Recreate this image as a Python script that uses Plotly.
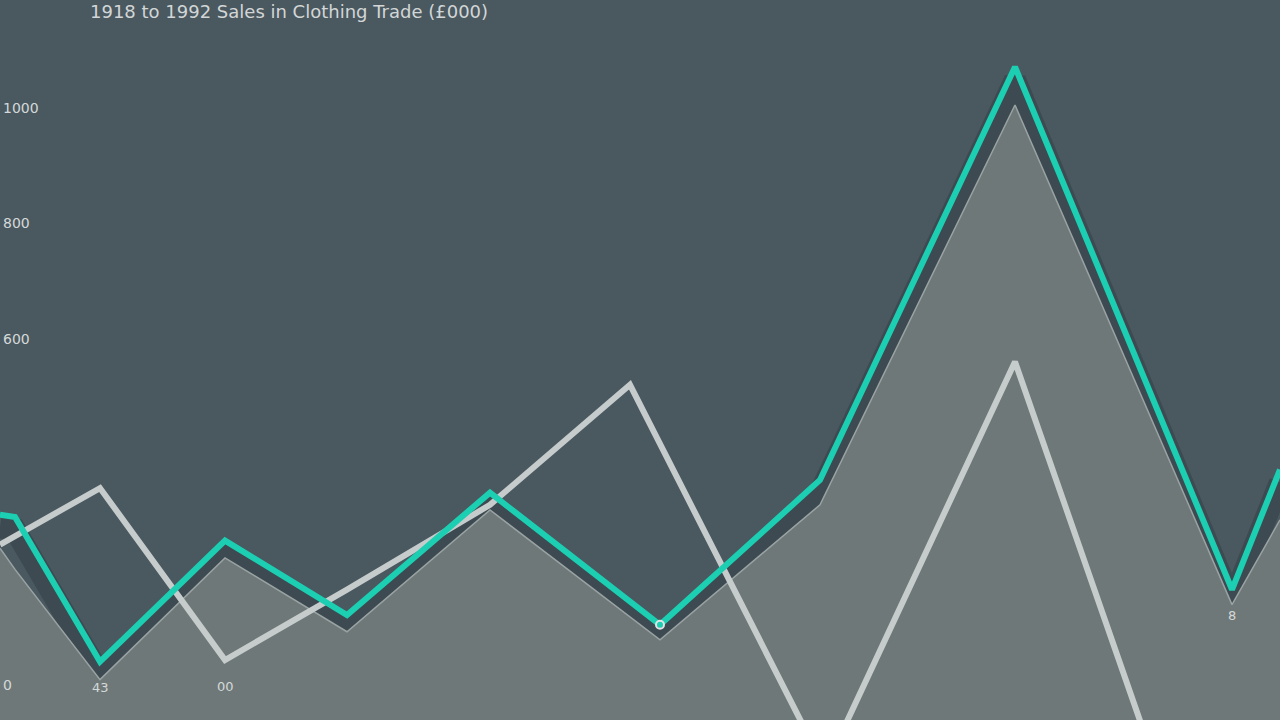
import plotly.graph_objects as go

# ---- data ----
title_text = "1918 to 1992 Sales in Clothing Trade (£000)"
x_main = [0, 15, 100, 225, 347, 490, 660, 820, 1015, 1232, 1280]
teal_vals = [295, 291, 40, 250, 121, 333, 104, 355, 1071, 165, 373]
area_vals = [237, 200, 9, 220, 92, 303, 78, 312, 1005, 139, 286]
x_light = [0, 100, 225, 347, 490, 630, 825, 1015, 1232, 1280]
light_vals = [243, 341, 43, 165, 312, 520, -145, 560, -520, -520]
ytick_vals = [1000, 800, 600, 0]
ytick_text = ["1000", "800", "600", "0"]
point_labels = [(100, 40, "43"), (225, 43, "00"), (1232, 165, "8")]

BG = "#4a5860"
shadow_vals = [v - 22 for v in teal_vals]

fig = go.Figure()
fig.add_trace(go.Scatter(x=x_main, y=shadow_vals, mode="lines",
                         line=dict(color="#3d4a51", width=22), hoverinfo="skip"))
fig.add_trace(go.Scatter(x=x_main, y=area_vals, mode="lines", fill="tozeroy",
                         fillcolor="#6f7878", line=dict(color="#9aa3a3", width=1.5)))
fig.add_trace(go.Scatter(x=x_main, y=[-200] * len(x_main), mode="lines", fill="tonexty",
                         fillcolor="#6f7878", line=dict(width=0), hoverinfo="skip"))
fig.add_trace(go.Scatter(x=x_light, y=light_vals, mode="lines",
                         line=dict(color="#c6cccc", width=6)))
fig.add_trace(go.Scatter(x=x_main, y=teal_vals, mode="lines",
                         line=dict(color="#1ccfb2", width=6)))
fig.add_trace(go.Scatter(x=[660], y=[104], mode="markers",
                         marker=dict(size=8, color="rgba(0,0,0,0)",
                                     line=dict(color="#e0e4e4", width=2))))

for xv, yv, t in point_labels:
    fig.add_annotation(x=xv, y=yv, text=t, showarrow=False, yshift=-26,
                       font=dict(color="#d4d8d8", size=13, family="DejaVu Sans"))

fig.add_annotation(text=title_text, xref="paper", yref="paper", x=0.069, y=1,
                   xanchor="left", yanchor="top", yshift=1, showarrow=False,
                   font=dict(color="#d2d6d6", size=18, family="DejaVu Sans"))

fig.update_layout(
    width=1280, height=720,
    paper_bgcolor=BG, plot_bgcolor=BG,
    margin=dict(l=0, r=0, t=0, b=0),
    showlegend=False,
    xaxis=dict(range=[0, 1280], visible=False, fixedrange=True),
    yaxis=dict(range=[-61, 1187], showgrid=False, zeroline=False,
               tickvals=ytick_vals, ticktext=ytick_text, ticks="",
               ticklabelposition="inside", ticklabelstandoff=0,
               tickfont=dict(color="#d4d8d8", size=14, family="DejaVu Sans")),
)

fig.write_html("out.html", config={"displayModeBar": False},
               post_script="document.body.style.margin='0';document.body.style.overflow='hidden';document.body.style.background='" + BG + "';")
